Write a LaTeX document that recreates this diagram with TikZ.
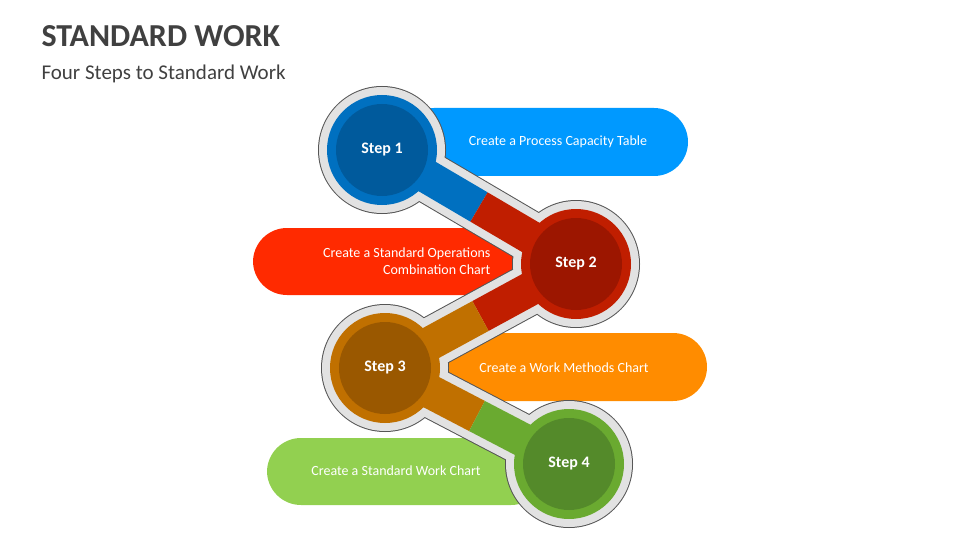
\documentclass[tikz,border=0pt]{standalone}
\usepackage{fontspec}
\usetikzlibrary{calc}
\setmainfont{Carlito}
\definecolor{bA}{HTML}{0070C0}\definecolor{bI}{HTML}{005A9C}\definecolor{bP}{HTML}{0099FF}
\definecolor{rA}{HTML}{C01E00}\definecolor{rI}{HTML}{9C1600}\definecolor{rP}{HTML}{FF2A00}
\definecolor{oA}{HTML}{C07000}\definecolor{oI}{HTML}{9A5800}\definecolor{oP}{HTML}{FF8C00}
\definecolor{gA}{HTML}{6AAA30}\definecolor{gI}{HTML}{548A2A}\definecolor{gP}{HTML}{92D050}
\definecolor{ringc}{HTML}{E2E2E2}\definecolor{edgec}{HTML}{555555}\definecolor{titlec}{HTML}{404040}
\tikzset{pill/.style={rounded corners=34pt},
ptext/.style={text=white,font=\fontsize{14}{17}\selectfont},
steptext/.style={text=white,font=\bfseries\fontsize{16}{18}\selectfont}}
\begin{document}
\begin{tikzpicture}[x=1pt,y=-1pt]
\useasboundingbox (0,0) rectangle (960,540);
\node[anchor=west,text=titlec,font=\bfseries\fontsize{32}{36}\selectfont] (title) at (38,36) {STANDARD WORK};
\node[anchor=west,text=titlec,font=\fontsize{21}{24}\selectfont] (sub) at (38,74) {Four Steps to Standard Work};
% pills
\fill[bP,pill] (400,108) rectangle (688,176);
\fill[rP,pill] (253,228) rectangle (525,295);
\fill[oP,pill] (420,333) rectangle (707,401);
\fill[gP,pill] (267,438) rectangle (545,505);
\coordinate (c1) at (382,150); \coordinate (c2) at (576,264);
\coordinate (c3) at (385,368); \coordinate (c4) at (569,464);
% outline structure
\draw[edgec,line width=52pt] (c1)--(c2)--(c3)--(c4);
\foreach \c in {c1,c2,c3,c4} \fill[edgec] (\c) circle (64);
\draw[ringc,line width=50pt] (c1)--(c2)--(c3)--(c4);
\foreach \c in {c1,c2,c3,c4} \fill[ringc] (\c) circle (63);
% colored necks
\draw[bA,line width=34pt] (c1)--($(c1)!0.5!(c2)$);
\draw[rA,line width=34pt] ($(c1)!0.5!(c2)$)--(c2)--($(c2)!0.5!(c3)$);
\draw[oA,line width=34pt] ($(c2)!0.5!(c3)$)--(c3)--($(c3)!0.5!(c4)$);
\draw[gA,line width=34pt] ($(c3)!0.5!(c4)$)--(c4);
\fill[bA] (c1) circle (55); \fill[bI] (c1) circle (46);
\fill[rA] (c2) circle (55); \fill[rI] (c2) circle (46);
\fill[oA] (c3) circle (55); \fill[oI] (c3) circle (46);
\fill[gA] (c4) circle (55); \fill[gI] (c4) circle (46);
\node[steptext] (s1) at (c1) {Step 1};
\node[steptext] (s2) at (c2) {Step 2};
\node[steptext] (s3) at (c3) {Step 3};
\node[steptext] (s4) at (c4) {Step 4};
\node[ptext] (t1) at (558,142) {Create a Process Capacity Table};
\node[ptext,anchor=east,align=right] (t2) at (494,261) {Create a Standard Operations\\Combination Chart};
\node[ptext] (t3) at (564,368) {Create a Work Methods Chart};
\node[ptext] (t4) at (396,471) {Create a Standard Work Chart};
\end{tikzpicture}
\end{document}
